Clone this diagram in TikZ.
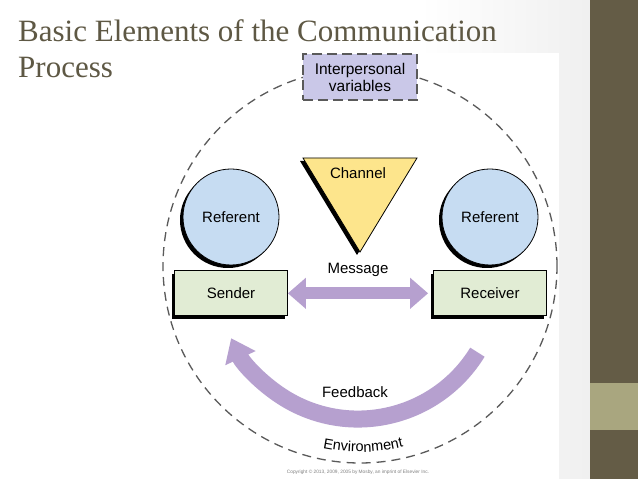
\documentclass[tikz,border=0pt]{standalone}
\usepackage{fontspec}
\setmainfont{Liberation Serif}
\newfontfamily\labelfont{Liberation Sans}
\usetikzlibrary{arrows.meta,positioning,shadows,decorations.text}

\definecolor{barbrown}{HTML}{645C46}
\definecolor{barolive}{HTML}{A9A67F}
\definecolor{titlebrown}{HTML}{5E5844}
\definecolor{lavender}{HTML}{CAC8E8}
\definecolor{refblue}{HTML}{C6DCF2}
\definecolor{chanyellow}{HTML}{FDE58C}
\definecolor{boxgreen}{HTML}{E1ECD4}
\definecolor{arrowpurple}{HTML}{B6A0CF}
\definecolor{ringgray}{HTML}{5A5A5A}

\begin{document}
\begin{tikzpicture}[x=1pt,y=1pt,node distance=5pt,
    every node/.style={font=\labelfont\fontsize{15}{17}\selectfont},
    shade node/.style={drop shadow={shadow xshift=-3pt,shadow yshift=-3pt,opacity=1,fill=black}},
    ref node/.style={circle,draw,line width=0.8pt,fill=refblue,minimum size=96pt,inner sep=0pt,shade node},
    box node/.style={rectangle,draw,line width=0.8pt,fill=boxgreen,minimum width=113pt,minimum height=45pt,shade node},
    title node/.style={anchor=base west,inner sep=0pt,text=titlebrown,font=\fontsize{31}{31}\selectfont},
    flow/.style={arrowpurple,line width=12pt,>={Triangle[width=30pt,length=18pt]}}]

      \useasboundingbox (0,0) rectangle (638,479);
      \fill[white] (0,0) rectangle (638,479);
      \shade[left color=white,right color=gray!12] (420,0) rectangle (590,479);
      \fill[white] (140,0) rectangle (559,426);
      \fill[barbrown] (590,0) rectangle (638,479);
      \fill[barolive] (590,49) rectangle (638,96);

      \node[title node] (title) at (18,437) {Basic Elements of the Communication};
      \node[title node] (title2) at (18,401) {Process};

      \coordinate (ctr) at (360,213);
      \draw[ringgray,line width=1.3pt,dash pattern=on 9pt off 6pt] (ctr) circle[radius=197];

      \node[draw=ringgray,line width=1.4pt,dash pattern=on 10pt off 5pt,fill=lavender,
            minimum width=114pt,minimum height=46pt,inner sep=2pt,align=center,
            font=\labelfont\fontsize{15.5}{17}\selectfont] (vars) at (360,402) {Interpersonal\\variables};

      \coordinate (chl) at (303,321);
      \coordinate (chr) at (417,321);
      \coordinate (cht) at (360,227);
      \filldraw[fill=chanyellow,line width=0.8pt,shade node] (chl) -- (chr) -- (cht) -- cycle;
      \node (channel) at (358,306) {Channel};

      \node[ref node] (refL) at (231,262) {Referent};
      \node[ref node] (refR) at (490,262) {Referent};
      \node[box node] (sender) [below=of refL] {Sender};
      \node[box node] (receiver) [below=of refR] {Receiver};

      \draw[flow,<->,shorten >=5pt] (sender) -- (receiver);
      \node (message) at (358,209) {Message};

      \coordinate (fbstart) at (477.4,126.8);
      \draw[flow,line width=17pt,->,>={Triangle[width=32pt,length=22pt]}]
        (fbstart) arc[start angle=-31.5,end angle=-155,radius=140];
      \node (feedback) at (355,87) {Feedback};

      \path[decorate,decoration={text along path,text align=center,
            text={|\labelfont\fontsize{14.5}{16}\selectfont|Environment}}]
        (ctr) ++(-110:186) arc[start angle=-110,end angle=-68,radius=186];
      \node[font=\labelfont\fontsize{4.8}{5}\selectfont,text=gray] (credit) at (358,7)
        {Copyright © 2013, 2009, 2005 by Mosby, an imprint of Elsevier Inc.};
    \end{tikzpicture}
\end{document}
